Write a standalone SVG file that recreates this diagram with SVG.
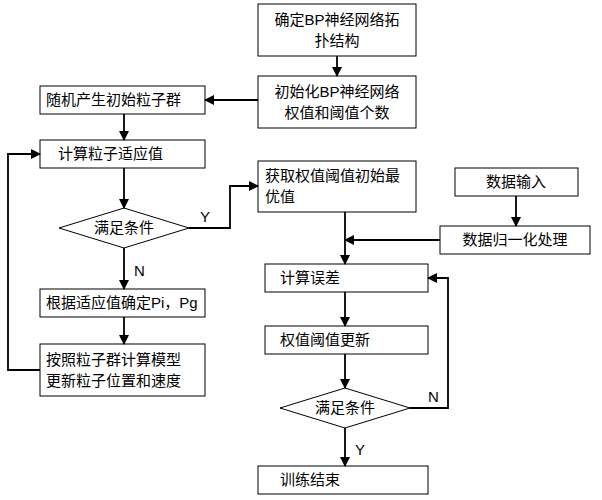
<svg xmlns="http://www.w3.org/2000/svg" width="602" height="500" viewBox="0 0 602 500">
<defs><marker id="a" markerWidth="10" markerHeight="10" refX="9" refY="5" orient="auto" markerUnits="userSpaceOnUse"><path d="M0,0 L10,5 L0,10 z" fill="#000"/></marker></defs>
<style>
rect,polygon{fill:#fff;stroke:#000;stroke-width:1}
text{font-family:"Liberation Sans","Noto Sans CJK SC",sans-serif;font-size:15px;fill:#000}
.c{text-anchor:middle}
#conn path{fill:none;stroke:#000;stroke-width:1.8;marker-end:url(#a)}
</style>
<rect width="602" height="500" style="fill:#fff;stroke:none"/>
<g id="n1"><rect x="258" y="4" width="158" height="52"/><text x="337" y="25" class="c">确定BP神经网络拓</text><text x="337" y="46" class="c">扑结构</text></g>
<g id="n2"><rect x="258" y="76" width="158" height="52"/><text x="337" y="97" class="c">初始化BP神经网络</text><text x="337" y="118" class="c">权值和阈值个数</text></g>
<g id="n3"><rect x="40" y="86" width="165" height="28"/><text x="46" y="105">随机产生初始粒子群</text></g>
<g id="n4"><rect x="40" y="140" width="165" height="28"/><text x="58" y="159">计算粒子适应值</text></g>
<g id="n5"><polygon points="124,208 189,228 124,248 59,228"/><text x="124" y="233" class="c">满足条件</text></g>
<g id="n6"><rect x="40" y="289" width="165" height="28"/><text x="46" y="308">根据适应值确定Pi，Pg</text></g>
<g id="n7"><rect x="40" y="344" width="165" height="52"/><text x="46" y="365">按照粒子群计算模型</text><text x="46" y="386">更新粒子位置和速度</text></g>
<g id="n8"><rect x="258" y="161" width="158" height="51"/><text x="265" y="181">获取权值阈值初始最</text><text x="265" y="202">优值</text></g>
<g id="n9"><rect x="455" y="168" width="123" height="28"/><text x="516" y="187" class="c">数据输入</text></g>
<g id="n10"><rect x="440" y="226" width="150" height="28"/><text x="515" y="245" class="c">数据归一化处理</text></g>
<g id="n11"><rect x="265" y="264" width="163" height="28"/><text x="280" y="283">计算误差</text></g>
<g id="n12"><rect x="265" y="326" width="163" height="28"/><text x="280" y="345">权值阈值更新</text></g>
<g id="n13"><polygon points="345,388 410,408 345,428 280,408"/><text x="345" y="413" class="c">满足条件</text></g>
<g id="n14"><rect x="258" y="466" width="170" height="28"/><text x="280" y="485">训练结束</text></g>
<g id="conn">
<path d="M337,56 V76"/>
<path d="M258,100 H205"/>
<path d="M124,114 V140"/>
<path d="M124,168 V208"/>
<path d="M189,228 H230 V186 H258"/>
<path d="M124,248 V289"/>
<path d="M124,317 V344"/>
<path d="M40,370 H8 V154 H40"/>
<path d="M345,212 V264"/>
<path d="M516,196 V226"/>
<path d="M440,240 H345"/>
<path d="M345,292 V326"/>
<path d="M345,354 V388"/>
<path d="M410,408 H448 V278 H428"/>
<path d="M345,428 V466"/>
</g>
<text x="200" y="222">Y</text>
<text x="134" y="276">N</text>
<text x="428" y="402">N</text>
<text x="355" y="455">Y</text>
</svg>
